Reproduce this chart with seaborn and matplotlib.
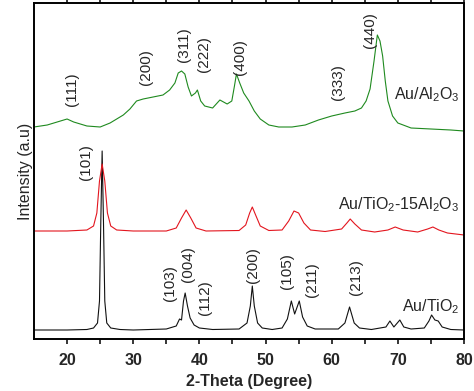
import matplotlib
matplotlib.use("Agg")
import matplotlib.pyplot as plt
import seaborn as sns
import pandas as pd

# ---- data (2-theta in degrees, intensity in arbitrary units) ----
tio2_x = [15, 20, 23, 24, 24.6, 24.9, 25.1, 25.3, 25.5, 25.7, 26.0, 26.6, 28, 30, 35, 36.5, 37.0,
          37.3, 37.6, 37.85, 38.2, 38.6, 39.2, 40, 42, 46, 47.2, 47.7, 48.0, 48.3, 48.8, 49.5, 51,
          52.5, 53.3, 53.9, 54.4, 55.1, 55.6, 56.3, 57.5, 61, 62.0, 62.7, 63.4, 64.2, 66, 68.2,
          68.8, 69.4, 70.3, 70.9, 72, 74, 74.7, 75.1, 75.6, 76.1, 76.7, 78, 80]
tio2_y = [9, 9, 9.5, 11, 16, 38, 118, 188, 118, 38, 16, 11, 9.5, 9, 10, 13, 20,
          19, 38, 46, 33, 21, 14, 11, 9.5, 10, 16, 33, 53, 33, 16, 11, 9.5,
          11, 20, 38, 25, 38, 22, 13, 10, 10, 16, 32, 16, 11, 9.5, 12,
          18, 12, 19, 12, 10, 11, 18, 24, 19, 18, 12, 9.5, 9]

mix_x = [15, 20, 23, 24, 24.5, 24.9, 25.3, 25.7, 26.1, 26.6, 27.5, 30, 35, 36.5, 37.3, 38.0,
         38.7, 39.5, 41, 46, 47.0, 47.6, 48.0, 48.5, 49.2, 50.5, 52.5, 53.5, 54.3, 55.0, 55.8,
         56.8, 59, 61.5, 62.3, 62.8, 63.5, 64.5, 66.5, 68.5, 69.6, 70.8, 73, 74.5, 75.3, 76.2,
         77.5, 80]
mix_y = [108, 108, 109, 113, 126, 158, 175, 158, 126, 113, 109, 108, 108, 111, 121, 129,
         121, 111, 108, 108.5, 114, 126, 132, 124, 113, 108.5, 109, 118, 128, 126, 116,
         109, 107.5, 110, 116, 120, 115, 109, 107, 109, 112, 109, 107, 110, 112, 109,
         106, 104]

al2o3_x = [15, 17, 19, 20, 21, 23, 25, 26.5, 27.5, 28.5, 29.5, 30.5, 31.5, 33, 34.5, 35.5, 36.3,
           36.8, 37.3, 37.8, 38.3, 38.8, 39.4, 39.7, 40.2, 40.8, 42, 43.1, 44.2, 44.9, 45.3, 45.6,
           46.1, 46.7, 47.5, 48.3, 49.2, 50.5, 52, 54, 56, 58, 60, 62, 63.5, 64.5, 65.2, 65.8,
           66.4, 66.9, 67.3, 67.7, 68.1, 68.5, 69.2, 70, 72, 75, 78, 80]
al2o3_y = [212, 214, 218, 220, 217, 213, 212, 216, 220, 224, 230, 238, 240, 242, 244, 249, 256,
           266, 268, 265, 252, 243, 246, 249, 238, 233, 231, 239, 235, 238, 253, 265,
           256, 246, 238, 228, 220, 214, 212, 212, 214, 219, 223, 226, 228, 231, 238, 250,
           278, 304, 298, 283, 258, 238, 223, 216, 211, 210, 209, 208]

series_names = ["Au/TiO$_2$", "Au/TiO$_2$-15Al$_2$O$_3$", "Au/Al$_2$O$_3$"]
series_colors = ["#111111", "#e3151e", "#1f8a1f"]

x_ticks = [20, 30, 40, 50, 60, 70, 80]

# peak annotations: (label, 2-theta position, vertical centre)
peak_labels = [
    ("(111)", 20.7, 249.5), ("(200)", 32.0, 271.5), ("(311)", 37.6, 294.5),
    ("(222)", 40.7, 284.5), ("(400)", 46.2, 282.0), ("(333)", 61.0, 257.0),
    ("(440)", 65.8, 308.5),
    ("(101)", 22.9, 177.0), ("(103)", 35.6, 55.5), ("(004)", 38.3, 74.5),
    ("(112)", 40.85, 41.5), ("(200)", 48.05, 73.5), ("(105)", 53.2, 68.0),
    ("(211)", 57.0, 59.5), ("(213)", 63.7, 61.5),
]
# series names: (x right edge, baseline y)
name_pos = [(79.3, 27.3), (79.3, 129.7), (79.3, 239.7)]

# ---- plotting ----
sns.set_style("ticks")
plt.rcParams["font.family"] = ["Liberation Sans", "DejaVu Sans"]
plt.rcParams["mathtext.fontset"] = "custom"
plt.rcParams["mathtext.rm"] = "Liberation Sans"
plt.rcParams["mathtext.it"] = "Liberation Sans:italic"
plt.rcParams["mathtext.bf"] = "Liberation Sans:bold"

fig = plt.figure(figsize=(4.74, 3.91), dpi=100)
ax = fig.add_axes([34 / 474, 52 / 391, 430 / 474, 336 / 391])

for xs, ys, c in [(tio2_x, tio2_y, series_colors[0]),
                  (mix_x, mix_y, series_colors[1]),
                  (al2o3_x, al2o3_y, series_colors[2])]:
    df = pd.DataFrame({"x": xs, "y": ys})
    sns.lineplot(data=df, x="x", y="y", color=c, linewidth=0.8, ax=ax, sort=False)

ax.set_xlim(15, 80)
ax.set_ylim(0, 336)
ax.set_yticks([])
ax.set_xticks(x_ticks)
ax.set_xticklabels([str(t) for t in x_ticks], fontsize=11.5, fontweight="bold")
ax.set_xticks([25, 35, 45, 55, 65, 75], minor=True)
ax.tick_params(axis="x", which="both", direction="out", length=3.5, width=1.3,
               top=True, bottom=True, pad=6.5)
for s in ax.spines.values():
    s.set_linewidth(1.4)
    s.set_color("black")

ax.set_xlabel("2-Theta (Degree)", fontsize=11.5, fontweight="bold", labelpad=4.5)
ax.set_ylabel("Intensity (a.u)", fontsize=11.5, labelpad=1)

for lab, xv, yv in peak_labels:
    ax.text(xv, yv, lab, rotation=90, ha="center", va="center", fontsize=11)

for (xv, yv), nm in zip(name_pos, series_names):
    ax.text(xv, yv, nm, ha="right", va="baseline", fontsize=11.5)

fig.savefig("out.png", dpi=100)
